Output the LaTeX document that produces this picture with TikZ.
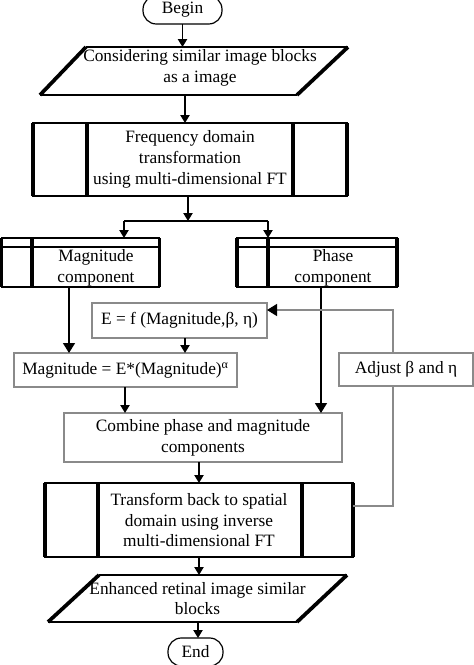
\documentclass[tikz,border=0pt]{standalone}
\usepackage{fontspec}
\setmainfont{Liberation Serif}
\usetikzlibrary{calc,arrows.meta}
\definecolor{lgray}{HTML}{8A8A8A}
\tikzset{
  thinln/.style={line width=0.8pt},
  thk/.style={line width=2.8pt},
  grbox/.style={draw=lgray, line width=0.8pt},
  arr/.style={line width=0.9pt, -{Triangle[width=7pt,length=6pt]}},
  bigarr/.style={line width=1.1pt, -{Triangle[width=9pt,length=7.5pt]}},
  fb/.style={draw=lgray, line width=1pt},
  term/.style={draw, line width=0.9pt, rounded corners=10pt},
}
\begin{document}
\begin{tikzpicture}[x=0.75pt,y=-0.75pt,
  every node/.style={inner sep=0pt, outer sep=0pt, align=center, font=\fontsize{13}{15.5}\selectfont}]
\clip (0,0) rectangle (474,665);
\fill[white] (0,0) rectangle (474,665);

% coordinates for connector x positions
\coordinate (a1) at (185,0);
\coordinate (split) at (188,221);
\coordinate (sL) at (124,221);
\coordinate (sR) at (268,221);
\coordinate (a2) at (69,0);
\coordinate (a4) at (321,0);
\coordinate (a5) at (125,0);
\coordinate (a3) at (199,0);
\coordinate (a6) at (198,0);
\coordinate (fb1) at (393,506);
\coordinate (fbE) at (0,310);

% Begin
\node[term, minimum width=59.25pt, minimum height=21pt] (begin) at (182.5,10) {Begin};

% Input parallelogram
\node[minimum width=231pt, minimum height=36pt] (p1) at (194,71) {};
\node (p1t) at (200,68) {Considering similar image blocks\\as a image};
\draw[thinln] ($(p1.north west)+(46,0)$) -- (p1.north east);
\draw[thinln] (p1.south west) -- ($(p1.south east)+(-51,0)$);
\draw[thk] (p1.south west) -- ($(p1.north west)+(46,0)$);
\draw[thk] ($(p1.south east)+(-51,0)$) -- (p1.north east);

% Frequency domain transformation
\node[minimum width=235.5pt, minimum height=54.75pt] (fdt) at (190,159.5) {Frequency domain\\transformation\\using multi-dimensional FT};
\draw[thinln] (fdt.north west) rectangle (fdt.south east);
\draw[thk] (fdt.north west) -- (fdt.south west);
\draw[thk] (fdt.north east) -- (fdt.south east);
\draw[thk] ($(fdt.north west)+(54,0)$) -- ($(fdt.south west)+(54,0)$);
\draw[thk] ($(fdt.north east)+(-54,0)$) -- ($(fdt.south east)+(-54,0)$);

% Magnitude component
\node[minimum width=118.5pt, minimum height=36.75pt] (mc) at (80.5,262.5) {};
\draw[thinln] (mc.north west) rectangle (mc.south east);
\draw[thinln] ($(mc.north west)+(0,9)$) -- ($(mc.north east)+(0,9)$);
\draw[thk] (mc.north west) -- (mc.south west);
\draw[thk] (mc.north east) -- (mc.south east);
\draw[thk] ($(mc.north west)+(30.5,0)$) -- ($(mc.south west)+(30.5,0)$);
\node (mct) at (96,268) {Magnitude\\component};

% Phase component
\node[minimum width=120pt, minimum height=36.75pt] (pc) at (317,262.5) {};
\draw[thinln] (pc.north west) rectangle (pc.south east);
\draw[thinln] ($(pc.north west)+(0,9)$) -- ($(pc.north east)+(0,9)$);
\draw[thk] (pc.north west) -- (pc.south west);
\draw[thk] (pc.north east) -- (pc.south east);
\draw[thk] ($(pc.north west)+(31,0)$) -- ($(pc.south west)+(31,0)$);
\node (pct) at (333,268) {Phase\\component};

% Process boxes
\node[grbox, minimum width=131.25pt, minimum height=26.25pt] (E) at (179.5,320.5) {E = f (Magnitude,β, η)};
\node[grbox, minimum width=167.25pt, minimum height=25.5pt] (mag) at (125.5,370) {Magnitude = E*(Magnitude)\textsuperscript{α}};
\node[grbox, minimum width=100.5pt, minimum height=24.75pt] (adj) at (406,369.5) {Adjust β and η};
\node[grbox, minimum width=208.5pt, minimum height=36.75pt] (comb) at (203,437.5) {Combine phase and magnitude\\components};

% Transform back
\node[minimum width=231pt, minimum height=55.5pt] (tr) at (199,520) {Transform back to spatial\\domain using inverse\\multi-dimensional FT};
\draw[thinln] (tr.north west) rectangle (tr.south east);
\draw[thk] (tr.north west) -- (tr.south west);
\draw[thk] (tr.north east) -- (tr.south east);
\draw[thk] ($(tr.north west)+(53,0)$) -- ($(tr.south west)+(53,0)$);
\draw[thk] ($(tr.north east)+(-51,0)$) -- ($(tr.south east)+(-51,0)$);

% Output parallelogram
\node[minimum width=224.25pt, minimum height=35.25pt] (p2) at (197.5,598.5) {Enhanced retinal image similar\\blocks};
\draw[thinln] ($(p2.north west)+(51,0)$) -- (p2.north east);
\draw[thinln] (p2.south west) -- ($(p2.south east)+(-50,0)$);
\draw[thk] (p2.south west) -- ($(p2.north west)+(51,0)$);
\draw[thk] ($(p2.south east)+(-50,0)$) -- (p2.north east);

% End
\node[term, minimum width=41.25pt, minimum height=21pt] (end) at (195.5,652) {End};

% Connectors
\draw[arr] (begin.south) -- (begin.south |- p1.north);
\draw[arr] (p1.south -| a1) -- (fdt.north -| a1);
\draw[arr] (fdt.south -| split) -- (split);
\draw[line width=0.9pt] (sL) -- (sR);
\draw[arr] (sL) -- (mc.north -| sL);
\draw[arr] (sR) -- (pc.north -| sR);
\draw[bigarr] (mc.south -| a2) -- (mag.north -| a2);
\draw[arr] (E.south -| a1) -- (mag.north -| a1);
\draw[bigarr] (pc.south -| a4) -- (comb.north -| a4);
\draw[arr] (mag.south -| a5) -- (comb.north -| a5);
\draw[arr] (comb.south -| a3) -- (tr.north -| a3);
\draw[arr] (tr.south -| a3) -- (p2.north -| a3);
\draw[arr] (p2.south -| a6) -- (end.north -| a6);

% Feedback loop
\draw[fb] (tr.east |- fb1) -- (fb1) -- (adj.south -| fb1);
\draw[fb, -{Triangle[width=9pt,length=7.5pt,color=black]}] (adj.north -| fb1) |- (E.east |- fbE);
\end{tikzpicture}
\end{document}
